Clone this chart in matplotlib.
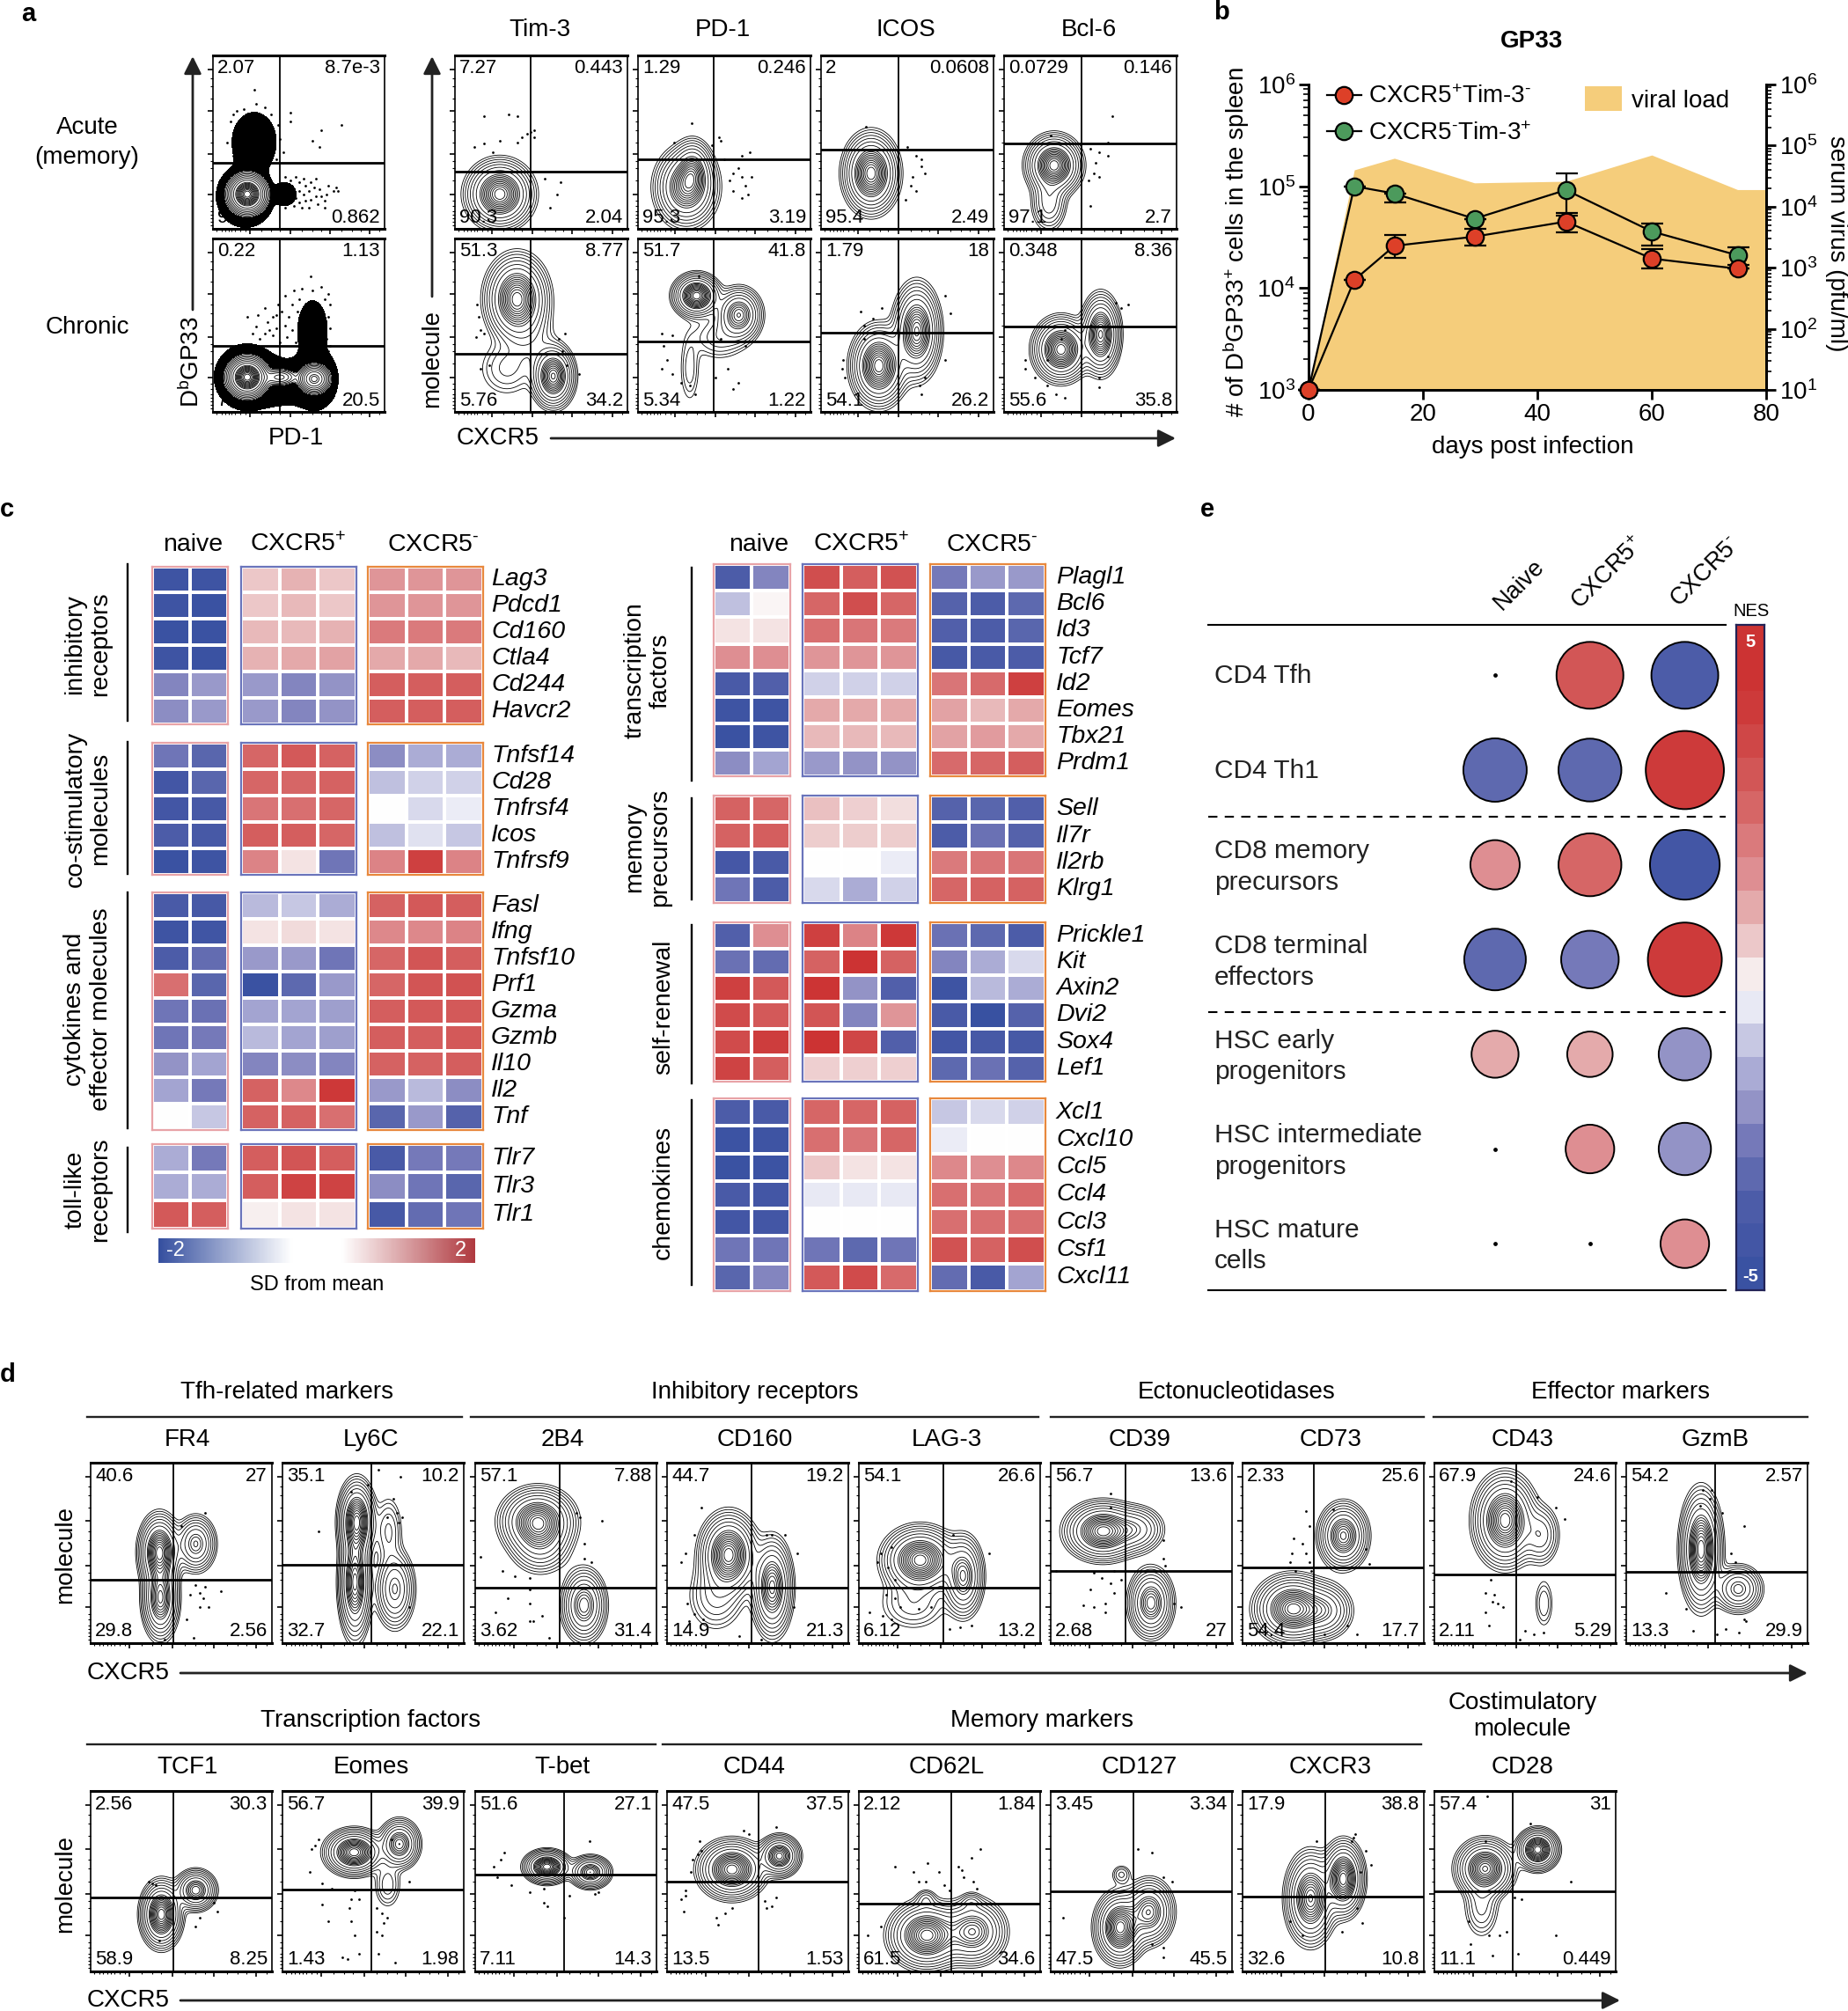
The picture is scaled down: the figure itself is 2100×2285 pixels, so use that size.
import numpy as np
import matplotlib
matplotlib.use("Agg")
import matplotlib.pyplot as plt
from matplotlib.colors import LinearSegmentedColormap, ListedColormap, BoundaryNorm
from matplotlib.lines import Line2D
from matplotlib.patches import Patch

plt.rcParams['font.family'] = ['Liberation Sans', 'DejaVu Sans']
plt.rcParams['mathtext.fontset'] = 'custom'
plt.rcParams['mathtext.rm'] = 'Liberation Sans'
plt.rcParams['mathtext.it'] = 'Liberation Sans:italic'
plt.rcParams['mathtext.bf'] = 'Liberation Sans:bold'
plt.rcParams['mathtext.default'] = 'regular'

W, H = 2100, 2285

# ---- panel b values
days = [0, 8, 15, 29, 45, 60, 75]
cxcr5_pos = [1000, 12000, 26000, 32000, 45000, 19500, 15500]
pos_low = [1000, 12000, 20000, 26000, 35000, 15500, 15500]
pos_high = [1000, 12000, 33000, 38000, 55000, 24000, 15500]
cxcr5_neg = [1000, 100000, 85000, 48000, 92000, 36000, 21000]
neg_low = [1000, 100000, 70000, 48000, 52000, 26000, 17000]
neg_high = [1000, 100000, 85000, 48000, 135000, 43000, 25000]
viral_days = [0, 8, 15, 29, 45, 60, 75, 80]
viral_load = [10, 40000, 62000, 24500, 26000, 70000, 19000, 19000]

# ---- panel c values, columns are naive x2, CXCR5+ x3, CXCR5- x3
inhib_genes = ['Lag3', 'Pdcd1', 'Cd160', 'Ctla4', 'Cd244', 'Havcr2']
inhib_vals = [[-1.6, -1.6, .3, .45, .3, .65, .65, .65],
              [-1.6, -1.7, .3, .4, .3, .65, .65, .65],
              [-1.7, -1.7, .4, .4, .45, .9, .9, .9],
              [-1.6, -1.7, .45, .5, .55, .5, .5, .4],
              [-.8, -.65, -.65, -.8, -.7, 1.2, 1.2, 1.2],
              [-.75, -.65, -.65, -.8, -.7, 1.2, 1.2, 1.2]]
costim_genes = ['Tnfsf14', 'Cd28', 'Tnfrsf4', 'Icos', 'Tnfrsf9']
costim_vals = [[-.95, -1.15, 1.1, 1.25, 1.15, -.75, -.5, -.5],
               [-1.5, -1.15, 1.1, 1.1, 1.15, -.35, -.25, -.25],
               [-1.5, -1.4, .95, 1.0, 1.1, 0, -.2, -.08],
               [-1.3, -1.4, 1.2, 1.2, 1.1, -.35, -.15, -.3],
               [-1.7, -1.6, .8, .15, -.95, .8, 1.6, .8]]
cyto_genes = ['Fasl', 'Ifng', 'Tnfsf10', 'Prf1', 'Gzma', 'Gzmb', 'Il10', 'Il2', 'Tnf']
cyto_vals = [[-1.35, -1.4, -.4, -.3, -.5, 1.15, 1.25, 1.2],
             [-1.6, -1.55, .15, .2, .15, .75, .75, .8],
             [-1.3, -1.05, -.65, -.65, -.95, 1.1, 1.3, 1.2],
             [1.0, -1.15, -1.7, -1.1, -.65, 1.1, 1.3, 1.35],
             [-.95, -1.0, -.55, -.55, -.6, 1.2, 1.25, 1.25],
             [-.95, -.9, -.4, -.55, -.6, 1.2, 1.2, 1.25],
             [-.7, -.55, -.8, -.75, -.8, 1.15, 1.15, 1.2],
             [-.55, -.9, 1.15, .75, 1.75, -.65, -.4, -.75],
             [0, -.3, 1.15, 1.15, 1.0, -1.15, -.65, -1.2]]
toll_genes = ['Tlr7', 'Tlr3', 'Tlr1']
toll_vals = [[-.5, -.9, 1.2, 1.3, 1.2, -1.35, -.9, -.9],
             [-.5, -.5, 1.2, 1.55, 1.55, -.75, -.95, -1.15],
             [1.25, 1.2, .08, .15, .15, -1.4, -1.05, -.95]]
tf_genes = ['Plagl1', 'Bcl6', 'Id3', 'Tcf7', 'Id2', 'Eomes', 'Tbx21', 'Prdm1']
tf_vals = [[-1.3, -.8, 1.4, 1.2, 1.35, -.9, -.65, -.65],
           [-.35, .05, 1.1, 1.4, 1.1, -1.2, -1.3, -1.1],
           [.15, .15, 1.0, .95, .9, -1.25, -1.3, -1.15],
           [.7, .7, .65, .65, .65, -1.4, -1.35, -1.3],
           [-1.35, -1.25, -.25, -.25, -.25, .95, 1.05, 1.6],
           [-1.6, -1.6, .5, .5, .5, .55, .4, .5],
           [-1.7, -1.6, .4, .4, .4, .55, .6, .5],
           [-.75, -.55, -.65, -.7, -.7, 1.05, 1.1, 1.2]]
mem_genes = ['Sell', 'Il7r', 'Il2rb', 'Klrg1']
mem_vals = [[1.15, 1.1, .35, .25, .18, -1.2, -1.15, -1.25],
            [1.15, 1.2, .28, .28, .28, -1.3, -1.0, -1.2],
            [-1.45, -1.35, 0, 0, -.08, .9, .95, .95],
            [-.95, -1.3, -.2, -.5, -.25, 1.1, 1.15, 1.15]]
renew_genes = ['Prickle1', 'Kit', 'Axin2', 'Dvi2', 'Sox4', 'Lef1']
renew_vals = [[-1.25, .7, 1.6, .8, 1.75, -1.0, -1.1, -1.3],
              [-1.0, -1.05, 1.15, 1.9, 1.15, -.8, -.5, -.2],
              [1.6, 1.25, 1.85, -.7, -1.25, -1.6, -.4, -.5],
              [1.45, 1.25, 1.3, -.8, .65, -1.35, -1.8, -1.2],
              [1.45, 1.65, 1.9, 1.5, -1.25, -1.5, -1.4, -1.4],
              [1.55, 1.2, .25, .25, .25, -1.1, -1.0, -1.2]]
chemo_genes = ['Xcl1', 'Cxcl10', 'Ccl5', 'Ccl4', 'Ccl3', 'Csf1', 'Cxcl11']
chemo_vals = [[-1.3, -1.35, 1.1, 1.1, 1.15, -.3, -.2, -.25],
              [-1.65, -1.6, 1.0, .95, 1.1, -.08, 0, 0],
              [-1.7, -1.65, .3, .15, .15, .75, .7, .75],
              [-1.35, -1.5, -.1, -.1, -.1, 1.0, .95, 1.05],
              [-1.5, -1.5, 0, 0, 0, 1.0, 1.0, 1.0],
              [-.95, -.95, -.95, -1.1, -.95, 1.35, 1.15, 1.4],
              [-1.15, -.8, 1.25, 1.45, 1.05, -1.05, -1.35, -.55]]

# ---- panel e values, 0 means not significant
e_labels = ['CD4 Tfh', 'CD4 Th1', 'CD8 memory\nprecursors', 'CD8 terminal\neffectors',
            'HSC early\nprogenitors', 'HSC intermediate\nprogenitors', 'HSC mature\ncells']
e_columns = ['Naive', r'CXCR5$^{+}$', r'CXCR5$^{\text{-}}$']
nes = [[0, 3.33, -3.33],
       [-3.0, -2.95, 4.4],
       [1.67, 2.95, -3.6],
       [-2.83, -2.45, 4.0],
       [1.45, 1.3, -1.95],
       [0, 1.6, -1.95],
       [0, 0, 1.6]]

# ---- flow panels: quadrant numbers UL, UR, LL, LR, gate (x, y),
# populations (x, y, sx, sy, weight) and single events, all read off the picture
a_acute_names = ['Tim-3', 'PD-1', 'ICOS', 'Bcl-6']
a_acute_quads = [['7.27', '0.443', '90.3', '2.04'], ['1.29', '0.246', '95.3', '3.19'],
                 ['2', '0.0608', '95.4', '2.49'], ['0.0729', '0.146', '97.1', '2.7']]
a_acute_gates = [(.44, .33), (.44, .40), (.45, .456), (.45, .49)]
a_acute_blobs = [[(.26, .2, .085, .085, 1)],
                 [(.28, .24, .08, .1, 1), (.32, .34, .05, .08, .5)],
                 [(.29, .32, .07, .1, 1)],
                 [(.29, .367, .07, .075, 1), (.26, .15, .05, .08, .25)]]
a_acute_dots = [[(.17, .65), (.31, .66), (.36, .65), (.26, .51), (.17, .49), (.11, .47), (.39, .53), (.44, .56), (.46, .57), (.22, .44), (.52, .29), (.59, .2), (.55, .12), (.61, .27), (.42, .55), (.46, .53), (.36, .5)],
                [(.31, .61), (.21, .5), (.47, .53), (.48, .51), (.6, .3), (.55, .32), (.58, .35), (.62, .25), (.64, .2), (.55, .22), (.5, .4), (.6, .42), (.65, .44), (.43, .48), (.66, .3), (.6, .18), (.53, .28)],
                [(.26, .59), (.5, .47), (.55, .42), (.58, .36), (.6, .32), (.52, .25), (.55, .22), (.49, .17), (.58, .4), (.53, .3)],
                [(.63, .65), (.6, .5), (.27, .54), (.5, .46), (.55, .44), (.6, .42), (.52, .32), (.55, .3), (.5, .13), (.49, .28), (.53, .38)]]
a_chronic_quads = [['51.3', '8.77', '5.76', '34.2'], ['51.7', '41.8', '5.34', '1.22'],
                   ['1.79', '18', '54.1', '26.2'], ['0.348', '8.36', '55.6', '35.8']]
a_chronic_gates = [(.44, .333), (.44, .404), (.45, .459), (.45, .493)]
a_chronic_blobs = [[(.36, .65, .08, .11, 1), (.57, .206, .055, .08, .9), (.3, .25, .09, .09, .1), (.44, .42, .08, .1, .08)],
                   [(.34, .67, .06, .055, 1), (.585, .56, .06, .07, .7), (.47, .43, .09, .07, .12), (.3, .25, .035, .12, .08)],
                   [(.555, .464, .06, .12, .9), (.335, .266, .07, .1, 1)],
                   [(.33, .36, .07, .08, 1), (.56, .447, .05, .1, .9)]]
a_chronic_dots = [[(.13, .62), (.14, .55), (.15, .47), (.12, .43), (.6, .42), (.62, .35), (.64, .45), (.65, .27), (.72, .22), (.15, .25), (.2, .27), (.17, .45)],
                  [(.15, .38), (.17, .3), (.14, .25), (.2, .22), (.25, .17), (.3, .15), (.33, .1), (.45, .2), (.52, .25), (.58, .17), (.55, .13), (.35, .78), (.62, .38), (.48, .42), (.14, .45), (.2, .44)],
                  [(.23, .58), (.3, .54), (.25, .5), (.35, .6), (.72, .67), (.75, .57), (.13, .3), (.14, .2), (.12, .25), (.6, .2), (.58, .1), (.57, .15), (.72, .3), (.25, .42)],
                  [(.65, .63), (.72, .62), (.68, .6), (.5, .5), (.35, .47), (.33, .42), (.12, .3), (.12, .25), (.18, .2), (.25, .15), (.3, .1), (.35, .08), (.55, .2), (.55, .14), (.25, .3), (.6, .32)]]
# the two PD-1 / DbGP33 plots have a solid cloud of events behind the contours
gp33_quads = [['2.07', '8.7e-3', '97.1', '0.862'], ['0.22', '1.13', '78.2', '20.5']]
gp33_gates = [(.39, .38), (.39, .38)]
gp33_blobs = [[(.2, .2, .05, .05, 1)],
              [(.2, .2, .052, .05, 1), (.59, .19, .042, .038, .5), (.39, .2, .05, .025, .15)]]
gp33_clouds = [[(.24, .5, .06, .08, 1), (.19, .19, .08, .085, 1), (.42, .2, .03, .03, 1)],
               [(.2, .2, .09, .09, 1), (.59, .19, .065, .085, 1), (.39, .17, .1, .06, 1), (.58, .47, .04, .08, 1)]]
gp33_dots = [[(.24, .8), (.25, .72), (.45, .62), (.75, .6), (.63, .57), (.58, .51), (.45, .67), (.62, .47), (.73, .22), (.7, .22), (.72, .24),
              (.1, .62), (.12, .66), (.14, .68), (.18, .69), (.3, .7), (.34, .66), (.38, .6), (.39, .52), (.08, .5), (.41, .44), (.12, .42), (.37, .4),
              (.42, .3), (.45, .28), (.48, .3), (.5, .27), (.53, .29), (.46, .24), (.5, .22), (.54, .25), (.57, .27), (.48, .18), (.53, .2), (.56, .22),
              (.59, .24), (.62, .23), (.47, .13), (.5, .15), (.54, .16), (.57, .17), (.6, .19), (.63, .19), (.66, .2), (.65, .16), (.61, .14), (.56, .12),
              (.52, .12), (.44, .16), (.42, .12), (.67, .25), (.6, .29), (.65, .12)],
             [(.57, .78), (.2, .55), (.25, .49), (.3, .45), (.32, .52), (.27, .42), (.35, .55), (.3, .6), (.23, .45), (.4, .58),
              (.38, .62), (.42, .67), (.47, .7), (.52, .71), (.58, .7), (.63, .72), (.67, .68), (.68, .62), (.65, .65), (.5, .65), (.46, .62),
              (.44, .55), (.42, .5), (.46, .47), (.43, .43), (.48, .4), (.67, .55), (.68, .48), (.66, .42), (.68, .38), (.37, .48), (.35, .44), (.39, .4),
              (.49, .58), (.67, .35), (.26, .56), (.33, .47), (.37, .56)]]

d1_names = ['FR4', 'Ly6C', '2B4', 'CD160', 'LAG-3', 'CD39', 'CD73', 'CD43', 'GzmB']
d1_quads = [['40.6', '27', '29.8', '2.56'], ['35.1', '10.2', '32.7', '22.1'], ['57.1', '7.88', '3.62', '31.4'],
            ['44.7', '19.2', '14.9', '21.3'], ['54.1', '26.6', '6.12', '13.2'], ['56.7', '13.6', '2.68', '27'],
            ['2.33', '25.6', '54.4', '17.7'], ['67.9', '24.6', '2.11', '5.29'], ['54.2', '2.57', '13.3', '29.9']]
d1_gates = [(.454, .352), (.488, .433), (.468, .306), (.468, .306), (.466, .306),
            (.413, .40), (.393, .418), (.45, .379), (.488, .394)]
d1_blobs = [[(.38, .506, .05, .09, 1), (.385, .247, .045, .1, .8), (.58, .55, .05, .07, .55)],
            [(.41, .676, .045, .1, 1), (.40, .336, .04, .14, .9), (.62, .30, .05, .1, .5), (.585, .62, .04, .1, .15)],
            [(.345, .676, .09, .08, 1), (.60, .21, .055, .09, .7), (.36, .55, .08, .08, .3)],
            [(.34, .49, .07, .1, 1), (.58, .31, .05, .12, .8), (.27, .26, .08, .1, .15)],
            [(.338, .46, .09, .08, 1), (.576, .37, .05, .1, .65), (.3, .22, .1, .08, .12)],
            [(.287, .62, .09, .07, 1), (.474, .63, .07, .06, .35), (.553, .223, .055, .085, .7)],
            [(.556, .595, .06, .08, .8), (.276, .19, .09, .08, 1), (.454, .18, .07, .07, .4)],
            [(.39, .68, .075, .11, 1), (.587, .60, .05, .08, .25), (.604, .22, .03, .08, .09)],
            [(.413, .52, .05, .14, 1), (.618, .30, .06, .06, .5)]]
d1_dots = [[(.63, .72), (.5, .65), (.58, .32), (.63, .31), (.6, .28), (.55, .27), (.62, .25), (.6, .2), (.65, .2), (.72, .29), (.53, .13), (.57, .03), (.41, .02)],
           [(.53, .96), (.65, .92), (.47, .88), (.38, .84), (.61, .8), (.63, .72), (.66, .7), (.2, .62), (.64, .67), (.58, .7), (.7, .2)],
           [(.56, .72), (.58, .7), (.7, .68), (.6, .55), (.6, .47), (.64, .45), (.03, .48), (.15, .4), (.22, .37), (.3, .36), (.3, .3), (.3, .22), (.18, .25), (.11, .17), (.3, .12), (.32, .12), (.37, .15), (.41, .03)],
           [(.19, .75), (.15, .6), (.1, .5), (.08, .45), (.65, .6), (.55, .6), (.58, .6), (.72, .5), (.11, .22), (.15, .16), (.2, .13), (.12, .12), (.4, .04), (.52, .02), (.7, .2)],
           [(.52, .6), (.18, .53), (.12, .5), (.1, .45), (.16, .42), (.2, .35), (.15, .27), (.2, .25), (.06, .17), (.13, .15), (.18, .13), (.23, .2), (.33, .19), (.4, .2), (.72, .5), (.62, .1), (.5, .08), (.56, .09)],
           [(.33, .83), (.33, .75), (.62, .57), (.62, .47), (.63, .43), (.03, .4), (.24, .39), (.28, .36), (.33, .33), (.22, .3), (.35, .28), (.39, .35), (.18, .21), (.24, .2), (.3, .22), (.3, .17), (.72, .2), (.68, .22), (.35, .4)],
           [(.35, .73), (.5, .74), (.37, .65), (.28, .58), (.27, .5), (.33, .55), (.26, .45), (.35, .5), (.37, .45), (.25, .42), (.38, .4), (.29, .4), (.7, .44), (.68, .52), (.63, .05), (.58, .1), (.45, .05)],
           [(.42, .9), (.57, .81), (.67, .75), (.72, .69), (.31, .35), (.28, .28), (.33, .27), (.32, .23), (.35, .22), (.28, .17), (.38, .2), (.3, .1), (.5, .07), (.55, .05), (.6, .06), (.47, .02)],
           [(.42, .85), (.47, .85), (.46, .8), (.41, .76), (.53, .72), (.65, .65), (.58, .5), (.6, .45), (.22, .28), (.33, .19), (.65, .13), (.66, .12), (.55, .08), (.37, .07), (.62, .06), (.5, .05)]]

d2_names = ['TCF1', 'Eomes', 'T-bet', 'CD44', 'CD62L', 'CD127', 'CXCR3', 'CD28']
d2_quads = [['2.56', '30.3', '58.9', '8.25'], ['56.7', '39.9', '1.43', '1.98'], ['51.6', '27.1', '7.11', '14.3'],
            ['47.5', '37.5', '13.5', '1.53'], ['2.12', '1.84', '61.5', '34.6'], ['3.45', '3.34', '47.5', '45.5'],
            ['17.9', '38.8', '32.6', '10.8'], ['57.4', '31', '11.1', '0.449']]
d2_gates = [(.454, .41), (.49, .456), (.49, .537), (.505, .50), (.51, .378), (.457, .445), (.457, .417), (.43, .445)]
d2_blobs = [[(.39, .316, .05, .08, 1), (.58, .45, .05, .05, .7)],
            [(.395, .66, .07, .055, 1), (.645, .706, .05, .06, .7), (.58, .48, .04, .07, .12)],
            [(.396, .58, .055, .04, 1), (.635, .55, .05, .04, .7)],
            [(.358, .565, .08, .07, 1), (.62, .64, .05, .05, .8)],
            [(.374, .2, .09, .08, 1), (.63, .22, .08, .08, .7), (.37, .4, .03, .03, .1), (.62, .38, .03, .03, .1)],
            [(.382, .243, .06, .085, 1), (.543, .33, .06, .08, .7), (.39, .537, .03, .03, .1)],
            [(.556, .513, .05, .09, 1), (.375, .405, .06, .11, .9)],
            [(.57, .675, .05, .05, 1), (.28, .57, .07, .07, .95), (.26, .36, .05, .09, .15)]]
d2_dots = [[(.32, .5), (.34, .49), (.36, .48), (.68, .38), (.7, .33), (.58, .25), (.38, .17), (.6, .3)],
           [(.2, .73), (.18, .7), (.16, .68), (.15, .55), (.22, .49), (.27, .46), (.38, .4), (.4, .45), (.42, .4), (.22, .37), (.37, .35), (.25, .28), (.38, .28), (.52, .35), (.55, .32), (.58, .3), (.56, .27), (.52, .22), (.55, .2), (.4, .2), (.42, .1), (.53, .1), (.62, .05), (.33, .08), (.6, .73), (.7, .5), (.36, .07)],
           [(.63, .72), (.38, .38), (.4, .36), (.49, .3), (.1, .58), (.14, .62), (.16, .66), (.12, .52), (.2, .48), (.3, .44), (.38, .46), (.52, .42), (.66, .43), (.68, .44)],
           [(.18, .72), (.19, .67), (.17, .65), (.14, .62), (.13, .55), (.1, .45), (.08, .4), (.1, .42), (.09, .33), (.27, .3), (.28, .26), (.32, .32), (.36, .35), (.42, .78), (.45, .76), (.6, .8), (.54, .39), (.55, .35), (.6, .41), (.58, .36)],
           [(.2, .58), (.3, .55), (.38, .6), (.44, .55), (.33, .5), (.37, .5), (.47, .48), (.5, .45), (.55, .58), (.57, .56), (.67, .68), (.62, .63), (.58, .52), (.63, .5), (.65, .46), (.05, .2), (.12, .25)],
           [(.48, .68), (.56, .66), (.62, .52), (.67, .5), (.07, .3), (.62, .13), (.62, .08), (.56, .15)],
           [(.41, .72), (.6, .72), (.62, .76), (.61, .74), (.68, .67), (.71, .59), (.65, .55), (.26, .28), (.33, .2), (.63, .35), (.66, .27), (.55, .22)],
           [(.29, .97), (.53, .82), (.28, .72), (.75, .5), (.44, .41), (.48, .4), (.2, .15), (.3, .2), (.19, .28), (.36, .2), (.4, .22), (.67, .2), (.46, .1), (.32, .09)]]

# ---- colours
bands = ['#cc3333', '#cd3a3a', '#cf4747', '#d25656', '#d66666', '#da7a7c', '#de8e92', '#e4aaab', '#ecc8c9', '#f6ecec',
         '#e8e9f4', '#c7c8e3', '#aaabd5', '#9393c6', '#7579b9', '#5e69af', '#4c5ca8', '#4356a5', '#3a52a2', '#3650a0']
band_levels = np.linspace(-5, 5, 21)
band_cmap = ListedColormap(bands[::-1])
band_norm = BoundaryNorm(band_levels, 20)

heat_pos = np.linspace(-1.9, 1.9, 20)
heat_nodes = [(0.0, bands[-1])] + [((v + 2) / 4, c) for v, c in zip(heat_pos, bands[::-1])] + [(1.0, bands[0])]
heat_nodes = heat_nodes[:11] + [(0.5, '#ffffff')] + heat_nodes[11:]
heat_cmap = LinearSegmentedColormap.from_list('heat', heat_nodes)
scale_cmap = LinearSegmentedColormap.from_list('scale', [(0, '#3650a0'), (.42, '#ffffff'), (.58, '#ffffff'), (1, '#b03a40')])
pink, blue, orange = '#e8a3a7', '#6a74bb', '#e8883d'

fig = plt.figure(figsize=(W / 100, H / 100), dpi=100)

# background axes in picture pixels, all loose text and lines go here
bg = fig.add_axes([0, 0, 1, 1])
bg.set_xlim(0, W)
bg.set_ylim(H, 0)
bg.axis('off')


def add_ax(x0, y0, x1, y1):
    return fig.add_axes([x0 / W, 1 - y1 / H, (x1 - x0) / W, (y1 - y0) / H])


def label(x, y, s, size=20, **kw):
    kw.setdefault('ha', 'center')
    kw.setdefault('va', 'center')
    bg.text(x, y, s, fontsize=size, **kw)


def arrow(x0, y0, x1, y1):
    bg.annotate('', xy=(x1, y1), xytext=(x0, y0),
                arrowprops=dict(arrowstyle='-|>', lw=2, color='#222222', mutation_scale=30, shrinkA=0, shrinkB=0))


def density(blobs, gx, gy):
    z = np.zeros_like(gx)
    for bx, by, sx, sy, w in blobs:
        z += w * np.exp(-((gx - bx) / sx) ** 2 / 2 - ((gy - by) / sy) ** 2 / 2)
    return z


grid_x, grid_y = np.meshgrid(np.linspace(0, 1, 250), np.linspace(0, 1, 250))
contour_fracs = np.concatenate([np.geomspace(.03, .4, 8), np.linspace(.46, .94, 9)])


def flow(box, quads, gate, blobs, dots, cloud=None):
    ax = add_ax(*box)
    ax.set_xlim(0, 1)
    ax.set_ylim(0, 1)
    tx = .025
    ax.text(tx, .925, quads[0], fontsize=16, ha='left', va='center', zorder=1)
    ax.text(1 - tx, .925, quads[1], fontsize=16, ha='right', va='center', zorder=1)
    ax.text(tx, .065, quads[2], fontsize=16, ha='left', va='center', zorder=1)
    ax.text(1 - tx, .065, quads[3], fontsize=16, ha='right', va='center', zorder=1)
    z = density(blobs, grid_x, grid_y)
    levels = contour_fracs * z.max()
    if cloud is not None:
        ax.contourf(grid_x, grid_y, density(cloud, grid_x, grid_y), levels=[.1, 100], colors='k', zorder=1.5)
        ax.contourf(grid_x, grid_y, z, levels=[levels[0], 100], colors='w', zorder=1.6)
    ax.contour(grid_x, grid_y, z, levels=levels, colors='k', linewidths=.6, zorder=2)
    if dots:
        dx, dy = zip(*dots)
        ax.scatter(dx, dy, s=4, c='k', lw=0, zorder=2)
    ax.axvline(gate[0], color='k', lw=1.3, zorder=3)
    ax.axhline(gate[1], color='k', lw=2, zorder=3)
    ax.set_xticks([.215, .45, .68, .915])
    ax.set_xticks([.02, .05, .07, .09, .11, .13, .16, .19, .28, .34, .39, .52, .58, .63, .75, .81, .86, .97], minor=True)
    ax.set_yticks([.2, .43, .68, .92])
    ax.set_yticks([.02, .04, .06, .08, .1, .13, .16, .28, .35, .39, .5, .57, .62, .75, .82, .87], minor=True)
    ax.tick_params(which='major', length=4, width=1.2, labelbottom=False, labelleft=False)
    ax.tick_params(which='minor', length=2.5, width=.8)
    for s in ['left', 'right']:
        ax.spines[s].set_linewidth(1.2)
    for s in ['top', 'bottom']:
        ax.spines[s].set_linewidth(2.2)
    return ax


# ---- panel a
label(32, 16, 'a', size=21, fontweight='bold')
a_lefts = [517, 725, 933, 1141]
a_rows = [(63, 260), (271, 468)]
for i in range(2):
    flow((242, a_rows[i][0], 437, a_rows[i][1]), gp33_quads[i], gp33_gates[i], gp33_blobs[i], gp33_dots[i], gp33_clouds[i])
for i, x0 in enumerate(a_lefts):
    flow((x0, 63, x0 + 196, 260), a_acute_quads[i], a_acute_gates[i], a_acute_blobs[i], a_acute_dots[i])
    flow((x0, 271, x0 + 196, 468), a_chronic_quads[i], a_chronic_gates[i], a_chronic_blobs[i], a_chronic_dots[i])
    label(x0 + 96, 34, a_acute_names[i])
label(99, 145, 'Acute')
label(99, 179, '(memory)')
label(99, 372, 'Chronic')
label(336, 498, 'PD-1')
label(566, 498, 'CXCR5')
arrow(626, 498, 1336, 498)
label(218, 463, 'D$^{b}$GP33', rotation=90, va='bottom')
arrow(219, 352, 219, 64)
label(491, 463, 'molecule', rotation=90, va='bottom')
arrow(491, 337, 491, 64)

# ---- panel b
label(1388, 14, 'b', size=21, fontweight='bold')
label(1740, 47, 'GP33', fontweight='bold')
label(1742, 508, 'days post infection')
label(1405, 275, '# of D$^{b}$GP33$^{+}$ cells in the spleen', rotation=90)
label(2087, 277, 'serum virus (pfu/ml)', rotation=270)

ax_b = add_ax(1487, 96, 2007, 443)
ax_v = ax_b.twinx()
ax_b.set_zorder(ax_v.get_zorder() + 1)
ax_b.patch.set_visible(False)
ax_v.fill_between(viral_days, viral_load, 10, color='#f5cd7b', lw=0)
ax_v.set_yscale('log')
ax_v.set_ylim(10, 1e6)
ax_b.set_yscale('log')
ax_b.set_ylim(1e3, 1e6)
ax_b.set_xlim(0, 80)
ax_b.set_xticks([0, 20, 40, 60, 80])
err_neg = [np.array(cxcr5_neg) - np.array(neg_low), np.array(neg_high) - np.array(cxcr5_neg)]
err_pos = [np.array(cxcr5_pos) - np.array(pos_low), np.array(pos_high) - np.array(cxcr5_pos)]
ax_b.errorbar(days, cxcr5_neg, yerr=err_neg, color='k', lw=1.6, capsize=9, capthick=1.6, marker='o', ms=14,
              mfc='#4c9a5c', mec='k', mew=1.6, clip_on=False, zorder=3)
ax_b.errorbar(days, cxcr5_pos, yerr=err_pos, color='k', lw=1.6, capsize=9, capthick=1.6, marker='o', ms=14,
              mfc='#dd4028', mec='k', mew=1.6, clip_on=False, zorder=4)
for a in (ax_b, ax_v):
    a.spines['top'].set_visible(False)
    for s in ['left', 'right', 'bottom']:
        a.spines[s].set_linewidth(2)
    a.tick_params(which='major', length=8, width=2, labelsize=20, pad=3)
    a.tick_params(which='minor', length=4, width=1.2, labelleft=False, labelright=False)
    a.yaxis.set_minor_locator(matplotlib.ticker.LogLocator(base=10, subs=range(2, 10), numticks=12))
    a.yaxis.set_minor_formatter(matplotlib.ticker.NullFormatter())

leg1 = ax_b.legend(handles=[Line2D([], [], color='k', lw=1.6, marker='o', ms=14, mfc='#dd4028', mec='k', mew=1.6),
                            Line2D([], [], color='k', lw=1.6, marker='o', ms=14, mfc='#4c9a5c', mec='k', mew=1.6)],
                   labels=[r'CXCR5$^{+}$Tim-3$^{\text{-}}$', r'CXCR5$^{\text{-}}$Tim-3$^{+}$'], loc='center left', frameon=False,
                   fontsize=20, bbox_to_anchor=(1508 / W, 1 - 131 / H), bbox_transform=fig.transFigure,
                   borderpad=0, borderaxespad=0, handlelength=1.4, handletextpad=.3, labelspacing=.55)
ax_b.add_artist(leg1)
ax_b.legend(handles=[Patch(color='#f5cd7b', lw=0)], labels=['viral load'], loc='center left', frameon=False,
            fontsize=20, bbox_to_anchor=(1801 / W, 1 - 113 / H), bbox_transform=fig.transFigure,
            borderpad=0, borderaxespad=0, handlelength=1.5, handleheight=1.15, handletextpad=.4)

# ---- panel c
label(8, 579, 'c', size=21, fontweight='bold')


def heat_block(cols, y0, y1, vals, genes, gene_x):
    vals = np.array(vals)
    slices = [vals[:, :2], vals[:, 2:5], vals[:, 5:]]
    for (x0, x1), v, col in zip(cols, slices, [pink, blue, orange]):
        ax = add_ax(x0, y0, x1, y1)
        ax.pcolormesh(v, cmap=heat_cmap, vmin=-2, vmax=2, edgecolors='white', linewidth=1.6)
        ax.invert_yaxis()
        ax.set_xticks([])
        ax.set_yticks([])
        for s in ax.spines.values():
            s.set_color(col)
            s.set_linewidth(1.6)
    row_h = (y1 - y0) / len(genes)
    for i, g in enumerate(genes):
        label(gene_x, y0 + (i + .5) * row_h, g, ha='left', style='italic', size=20.5)


left_cols = [(172.5, 259), (274, 404.5), (418, 549)]
right_cols = [(810.5, 897.5), (912, 1043), (1057, 1188)]
heat_block(left_cols, 643.5, 823, inhib_vals, inhib_genes, 558)
heat_block(left_cols, 843.5, 994, costim_vals, costim_genes, 558)
heat_block(left_cols, 1014, 1284, cyto_vals, cyto_genes, 558)
heat_block(left_cols, 1299.5, 1396, toll_vals, toll_genes, 558)
heat_block(right_cols, 641, 882.5, tf_vals, tf_genes, 1200)
heat_block(right_cols, 904, 1025.5, mem_vals, mem_genes, 1200)
heat_block(right_cols, 1047.5, 1229, renew_vals, renew_genes, 1200)
heat_block(right_cols, 1248, 1467, chemo_vals, chemo_genes, 1200)

for x, s in zip([219, 339, 492, 862, 979, 1127], ['naive', r'CXCR5$^{+}$', r'CXCR5$^{\text{-}}$'] * 2):
    label(x, 619, s, size=20.5)

for x, y0, y1 in [(144.5, 641, 819), (144.5, 843, 993), (144.5, 1014, 1282), (144.5, 1304, 1400),
                  (786, 645, 887), (786, 907, 1022), (786, 1051, 1231), (786, 1250, 1460)]:
    bg.plot([x, x], [y0, y1], color='k', lw=1.7)
for x, y, s in [(100, 732, 'inhibitory\nreceptors'), (100, 919, 'co-stimulatory\nmolecules'),
                (100, 1147, 'cytokines and\neffector molecules'), (100, 1352, 'toll-like\nreceptors'),
                (736, 762, 'transcription\nfactors'), (736, 963, 'memory\nprecursors'),
                (754, 1144, 'self-renewal'), (754, 1355, 'chemokines')]:
    label(x, y, s, rotation=90, linespacing=1.15, size=20.5)

ax_scale = add_ax(180, 1407, 540, 1435)
ax_scale.imshow(np.linspace(-2, 2, 300)[None, :], aspect='auto', cmap=scale_cmap, vmin=-2, vmax=2)
ax_scale.axis('off')
ax_scale.text(.055, .5, '-2', transform=ax_scale.transAxes, color='w', fontsize=17, ha='center', va='center')
ax_scale.text(.955, .5, '2', transform=ax_scale.transAxes, color='w', fontsize=17, ha='center', va='center')
label(360, 1460, 'SD from mean', size=17)

# ---- panel e
label(1372, 579, 'e', size=21, fontweight='bold')
ax_e = add_ax(1645, 713.5, 1968.5, 1467)
ax_e.set_xlim(-.5, 2.5)
ax_e.set_ylim(6.5, -.5)
ax_e.axis('off')
nes_arr = np.array(nes, dtype=float)
ex, ey = np.meshgrid(np.arange(3), np.arange(7))
sig = nes_arr != 0
diam = (36 + 12 * np.abs(nes_arr)) * .72
ax_e.scatter(ex[sig], ey[sig], s=diam[sig] ** 2, c=nes_arr[sig], cmap=band_cmap, norm=band_norm,
             edgecolors='k', linewidths=1.4, clip_on=False)
ax_e.scatter(ex[~sig], ey[~sig], s=12, c='k', lw=0, clip_on=False)
for i, s in enumerate(e_labels):
    bg.text(1380, 768 + i * 107.6 + (2 if i >= 2 else 0), s, fontsize=21.5, ha='left', va='center', linespacing=1.35, color='#222222')
for x, y, s in zip([1726, 1828, 1938], [664, 652, 650], e_columns):
    label(x, y, s, rotation=45, size=19.5)
for y in [709.5, 1466]:
    bg.plot([1373, 1961], [y, y], color='k', lw=1.5)
for y in [928, 1149.5]:
    bg.plot([1373, 1961], [y, y], color='k', lw=1.5, ls=(0, (5, 4)))
label(1990, 694, 'NES', size=14.5)
ax_nes = add_ax(1972.5, 709.5, 2005, 1466)
ax_nes.pcolormesh([0, 1], band_levels[::-1], np.array(band_levels[:-1] + .5)[::-1][:, None], cmap=band_cmap, norm=band_norm)
ax_nes.set_ylim(-5, 5)
ax_nes.set_xticks([])
ax_nes.set_yticks([])
for s in ax_nes.spines.values():
    s.set_linewidth(1.6)
    s.set_color('#222255')
ax_nes.text(.5, 4.74, '5', color='w', fontsize=14.5, fontweight='bold', ha='center', va='center', transform=ax_nes.get_yaxis_transform())
ax_nes.text(.5, -4.79, '-5', color='w', fontsize=14.5, fontweight='bold', ha='center', va='center', transform=ax_nes.get_yaxis_transform())

# ---- panel d
label(9, 1562, 'd', size=21, fontweight='bold')
d_lefts = [103, 321, 540, 758, 976, 1194, 1412, 1630, 1848]
d_name_x = [213, 422, 639, 857.5, 1076, 1295, 1512, 1730, 1949]
for i, x0 in enumerate(d_lefts):
    flow((x0, 1662, x0 + 206, 1867), d1_quads[i], d1_gates[i], d1_blobs[i], d1_dots[i])
    label(d_name_x[i], 1636, d1_names[i])
for i, x0 in enumerate(d_lefts[:8]):
    flow((x0, 2035, x0 + 206, 2240), d2_quads[i], d2_gates[i], d2_blobs[i], d2_dots[i])
    label(d_name_x[i], 2008, d2_names[i])
for x, s in zip([326, 857.5, 1405.5, 1842], ['Tfh-related markers', 'Inhibitory receptors', 'Ectonucleotidases', 'Effector markers']):
    label(x, 1582, s)
for x0, x1 in [(99, 525), (535, 1180), (1194, 1618), (1629, 2054)]:
    bg.plot([x0, x1], [1610, 1610], color='#222222', lw=1.7)
for x, s in zip([421, 1184], ['Transcription factors', 'Memory markers']):
    label(x, 1955, s)
label(1730, 1950, 'Costimulatory\nmolecule', linespacing=1.25)
for x0, x1 in [(99, 745), (753, 1615)]:
    bg.plot([x0, x1], [1982, 1982], color='#222222', lw=1.7)
for y in [1767, 2140]:
    label(74, y, 'molecule', rotation=90)
label(146, 1901, 'CXCR5')
label(146, 2273, 'CXCR5')
arrow(205, 1901, 2054, 1901)
arrow(205, 2273, 1841, 2273)

fig.savefig('out.png', dpi=100)
